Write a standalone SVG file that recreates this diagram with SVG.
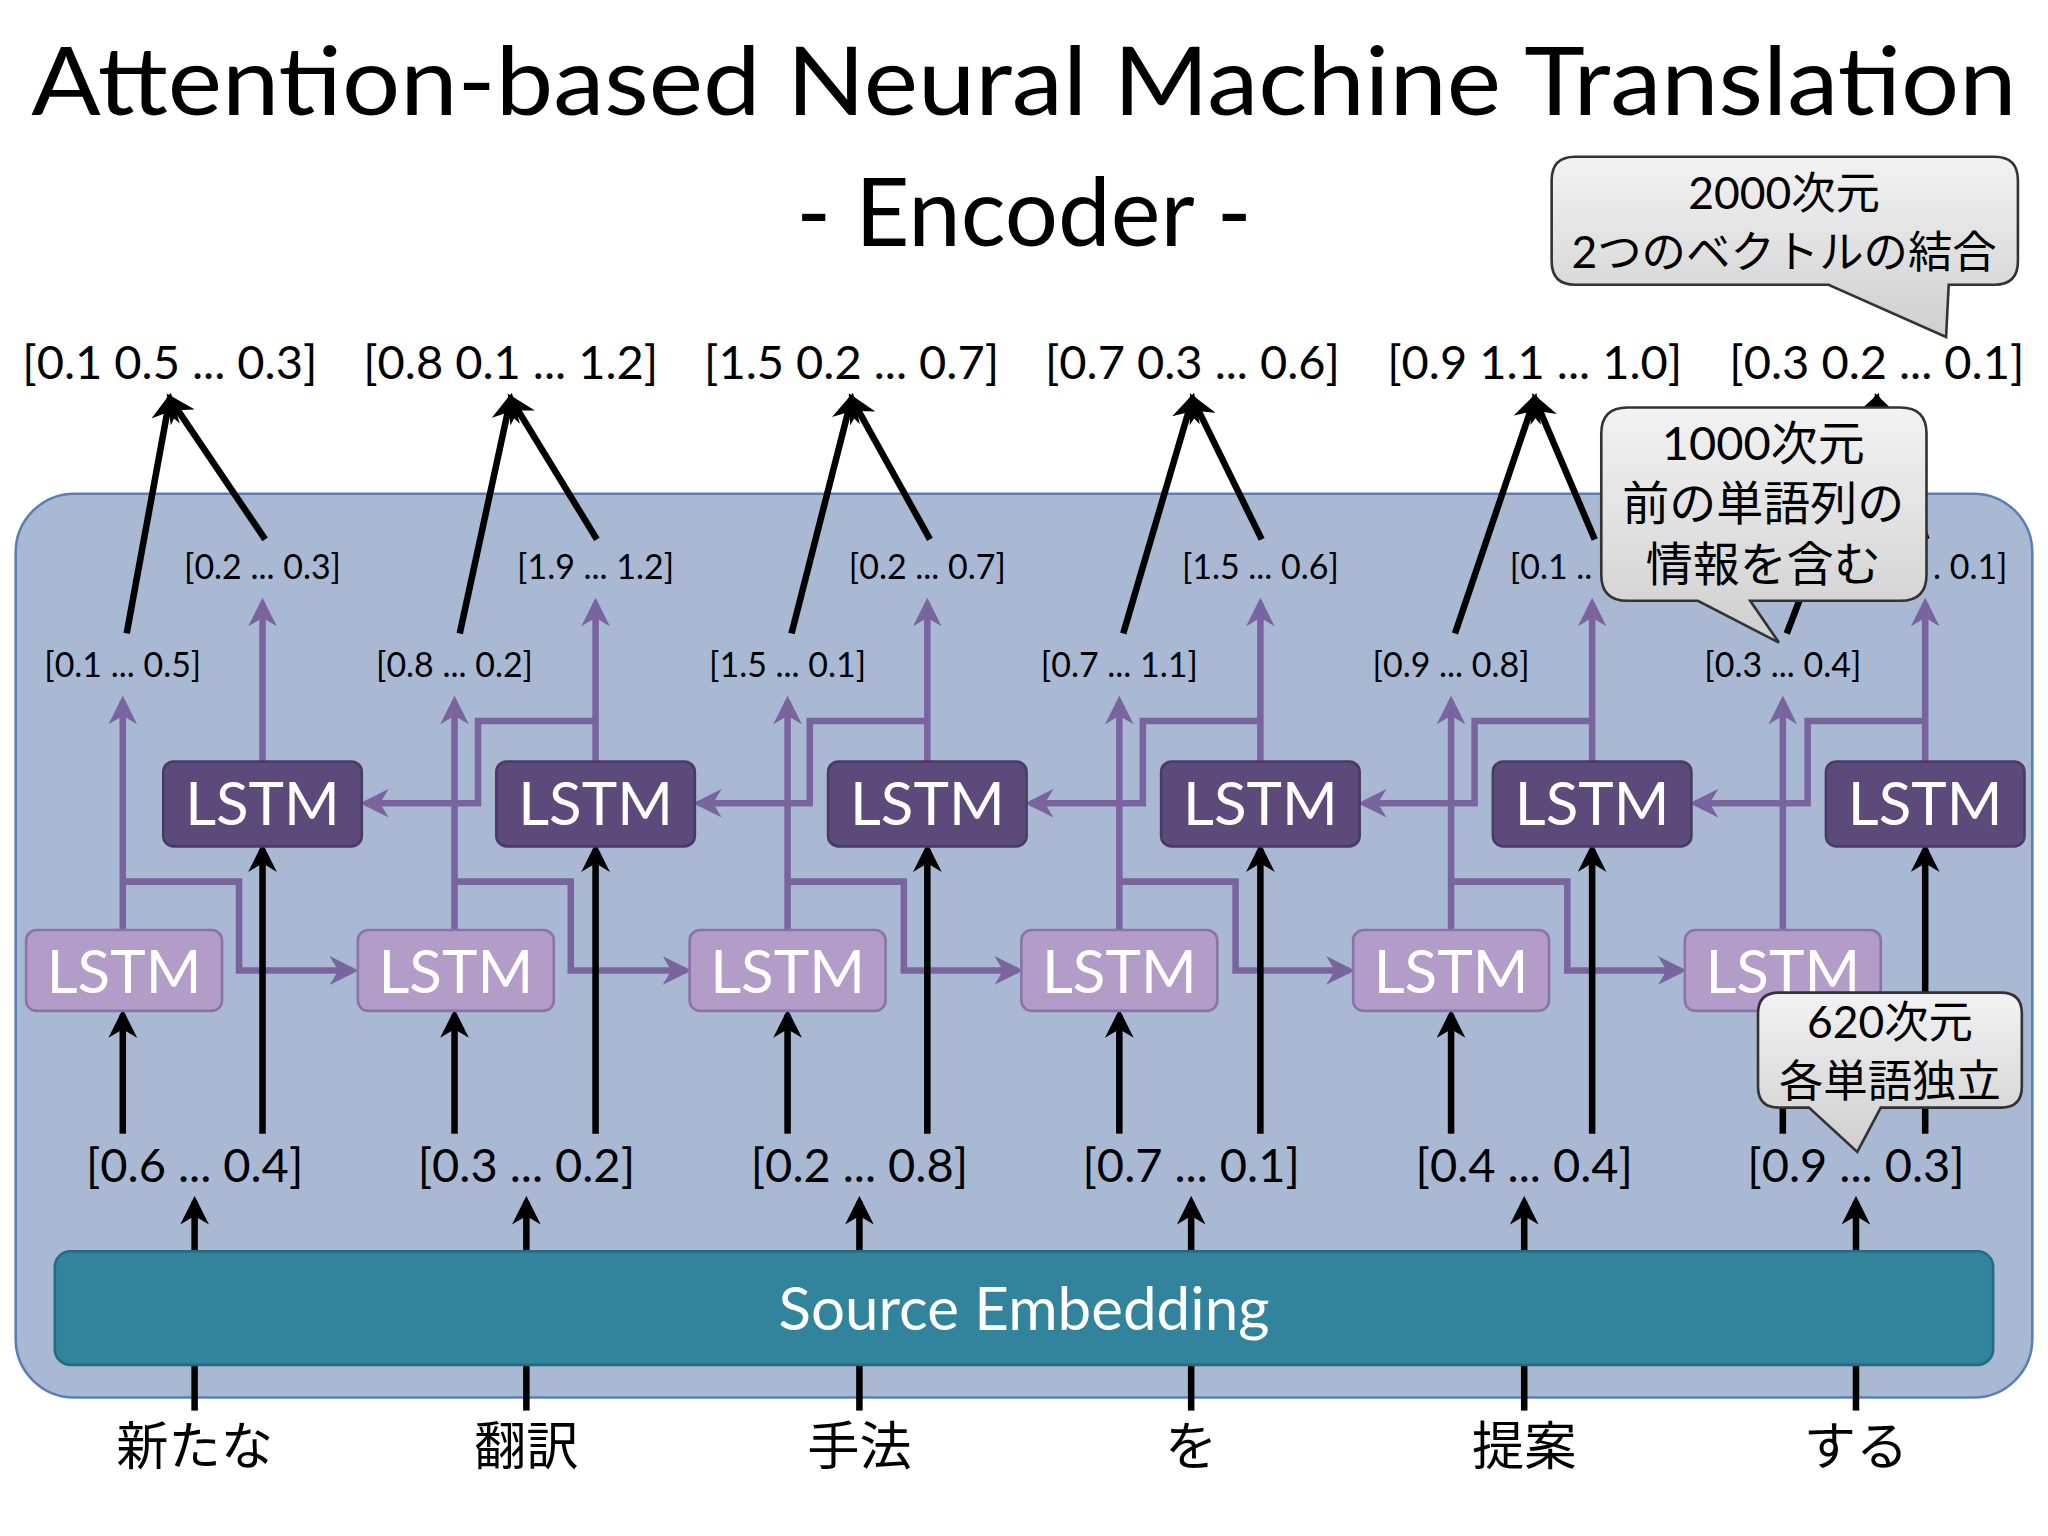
<svg xmlns="http://www.w3.org/2000/svg" width="2048" height="1536" viewBox="0 0 2048 1536">
<style>
text{font-family:Lato,"Noto Sans CJK JP",sans-serif;text-anchor:middle;fill:#000}
.lt rect{fill:#b39dc8;stroke:#8a73a8;stroke-width:2}
.dk rect{fill:#5c4a7a;stroke:#4a3a66;stroke-width:2}
.bt{fill:#fff;font-size:46px}
.pl{stroke:#7a64a0;stroke-width:5;fill:none}
.bk{stroke:#000;stroke-width:5;fill:none}
.co path{fill:url(#g);stroke:#333;stroke-width:2}
</style>
<defs>
<marker id="pa" viewBox="0 0 10 10" refX="8" refY="5" markerWidth="4.4" markerHeight="4.4" orient="auto"><path d="M0,0 L10,5 L0,10 L3,5 z" fill="#7a64a0"/></marker>
<marker id="ba" viewBox="0 0 10 10" refX="8" refY="5" markerWidth="4.4" markerHeight="4.4" orient="auto"><path d="M0,0 L10,5 L0,10 L3,5 z" fill="#000"/></marker>
<linearGradient id="g" x1="0" y1="0" x2="0" y2="1"><stop offset="0" stop-color="#f2f2f2"/><stop offset="1" stop-color="#cfcfcf"/></linearGradient>
</defs>
<rect width="2048" height="1536" fill="#fff"/>
<g transform="scale(1.3061)">
<text x="784" y="88" font-size="72" textLength="1520" lengthAdjust="spacingAndGlyphs">Attention-based Neural Machine Translation</text>
<text x="784" y="188" font-size="72">- Encoder -</text>
<rect x="12" y="378" width="1544" height="692" rx="45" fill="#a9b9d3" stroke="#5b7fb5" stroke-width="2"/>
<g id="connectors">
<g class="pl" marker-end="url(#pa)">
<path d="M94,712V537"/><path d="M348,712V537"/><path d="M603,712V537"/><path d="M857,712V537"/><path d="M1111,712V537"/><path d="M1365,712V537"/>
<path d="M201,583V462"/><path d="M456,583V462"/><path d="M710,583V462"/><path d="M965,583V462"/><path d="M1219,583V462"/><path d="M1474,583V462"/>
<path d="M94,675H183V743H270"/><path d="M348,675H437V743H525"/><path d="M603,675H692V743H779"/><path d="M857,675H946V743H1033"/><path d="M1111,675H1200V743H1287"/>
<path d="M456,552H366V615H280"/><path d="M710,552H620V615H535"/><path d="M965,552H875V615H789"/><path d="M1219,552H1129V615H1044"/><path d="M1474,552H1384V615H1298"/>
</g>
<g class="bk" marker-end="url(#ba)">
<path d="M94,868V777"/><path d="M348,868V777"/><path d="M603,868V777"/><path d="M857,868V777"/><path d="M1111,868V777"/><path d="M1365,868V777"/>
<path d="M201,868V650"/><path d="M456,868V650"/><path d="M710,868V650"/><path d="M965,868V650"/><path d="M1219,868V650"/><path d="M1474,868V650"/>
<path d="M149,958V920"/><path d="M403,958V920"/><path d="M658,958V920"/><path d="M912,958V920"/><path d="M1167,958V920"/><path d="M1421,958V920"/>
<path d="M97,485L130,305"/><path d="M203,413L130,305"/>
<path d="M352,485L391,305"/><path d="M457,413L391,305"/>
<path d="M606,485L652,305"/><path d="M712,413L652,305"/>
<path d="M860,485L913,305"/><path d="M966,413L913,305"/>
<path d="M1114,485L1175,305"/><path d="M1221,413L1175,305"/>
<path d="M1368,485L1437,305"/><path d="M1475,413L1437,305"/>
</g>
<g class="bk"><path d="M149,1080V1045"/><path d="M403,1080V1045"/><path d="M658,1080V1045"/><path d="M912,1080V1045"/><path d="M1167,1080V1045"/><path d="M1421,1080V1045"/></g>
</g>
<g font-size="36">
<text x="130" y="290">[0.1 0.5 ... 0.3]</text><text x="391" y="290">[0.8 0.1 ... 1.2]</text><text x="652" y="290">[1.5 0.2 ... 0.7]</text><text x="913" y="290">[0.7 0.3 ... 0.6]</text><text x="1175" y="290">[0.9 1.1 ... 1.0]</text><text x="1437" y="290">[0.3 0.2 ... 0.1]</text>
</g>
<g font-size="26">
<text x="94" y="518">[0.1 ... 0.5]</text><text x="348" y="518">[0.8 ... 0.2]</text><text x="603" y="518">[1.5 ... 0.1]</text><text x="857" y="518">[0.7 ... 1.1]</text><text x="1111" y="518">[0.9 ... 0.8]</text><text x="1365" y="518">[0.3 ... 0.4]</text>
<text x="201" y="443">[0.2 ... 0.3]</text><text x="456" y="443">[1.9 ... 1.2]</text><text x="710" y="443">[0.2 ... 0.7]</text><text x="965" y="443">[1.5 ... 0.6]</text><text x="1156" y="443" style="text-anchor:start">[0.1 ..</text><text x="1480" y="443" style="text-anchor:start">. 0.1]</text>
</g>
<g id="lstm-f1" class="lt"><rect x="20" y="712" width="150" height="62" rx="8"/><text class="bt" x="95" y="760">LSTM</text></g>
<g id="lstm-f2" class="lt"><rect x="274" y="712" width="150" height="62" rx="8"/><text class="bt" x="349" y="760">LSTM</text></g>
<g id="lstm-f3" class="lt"><rect x="528" y="712" width="150" height="62" rx="8"/><text class="bt" x="603" y="760">LSTM</text></g>
<g id="lstm-f4" class="lt"><rect x="782" y="712" width="150" height="62" rx="8"/><text class="bt" x="857" y="760">LSTM</text></g>
<g id="lstm-f5" class="lt"><rect x="1036" y="712" width="150" height="62" rx="8"/><text class="bt" x="1111" y="760">LSTM</text></g>
<g id="lstm-f6" class="lt"><rect x="1290" y="712" width="150" height="62" rx="8"/><text class="bt" x="1365" y="760">LSTM</text></g>
<g id="lstm-b1" class="dk"><rect x="125" y="583" width="152" height="65" rx="8"/><text class="bt" x="201" y="632">LSTM</text></g>
<g id="lstm-b2" class="dk"><rect x="380" y="583" width="152" height="65" rx="8"/><text class="bt" x="456" y="632">LSTM</text></g>
<g id="lstm-b3" class="dk"><rect x="634" y="583" width="152" height="65" rx="8"/><text class="bt" x="710" y="632">LSTM</text></g>
<g id="lstm-b4" class="dk"><rect x="889" y="583" width="152" height="65" rx="8"/><text class="bt" x="965" y="632">LSTM</text></g>
<g id="lstm-b5" class="dk"><rect x="1143" y="583" width="152" height="65" rx="8"/><text class="bt" x="1219" y="632">LSTM</text></g>
<g id="lstm-b6" class="dk"><rect x="1398" y="583" width="152" height="65" rx="8"/><text class="bt" x="1474" y="632">LSTM</text></g>
<g font-size="36">
<text x="149" y="905">[0.6 ... 0.4]</text><text x="403" y="905">[0.3 ... 0.2]</text><text x="658" y="905">[0.2 ... 0.8]</text><text x="912" y="905">[0.7 ... 0.1]</text><text x="1167" y="905">[0.4 ... 0.4]</text><text x="1421" y="905">[0.9 ... 0.3]</text>
</g>
<g id="embedding"><rect x="42" y="958" width="1484" height="87" rx="12" fill="#31849b" stroke="#256a7e" stroke-width="2"/><text x="784" y="1018" font-size="46" style="fill:#fff">Source Embedding</text></g>
<g font-size="40">
<text x="149" y="1122">新たな</text><text x="403" y="1122">翻訳</text><text x="658" y="1122">手法</text><text x="912" y="1122">を</text><text x="1167" y="1122">提案</text><text x="1421" y="1122">する</text>
</g>
<g class="co">
<g id="callout1"><path d="M1206,120H1527Q1545,120 1545,138V200Q1545,218 1527,218H1492L1490,258L1400,218H1206Q1188,218 1188,200V138Q1188,120 1206,120Z"/><text x="1366" y="160" font-size="34">2000次元</text><text x="1366" y="205" font-size="34">2つのベクトルの結合</text></g>
<g id="callout2"><path d="M1246,312H1455Q1475,312 1475,332V440Q1475,460 1455,460H1340L1362,492L1300,460H1246Q1226,460 1226,440V332Q1226,312 1246,312Z"/><text x="1350" y="352" font-size="36">1000次元</text><text x="1350" y="398" font-size="36">前の単語列の</text><text x="1350" y="445" font-size="36">情報を含む</text></g>
<g id="callout3"><path d="M1362,760H1532Q1548,760 1548,776V832Q1548,848 1532,848H1440L1422,882L1385,848H1362Q1346,848 1346,832V776Q1346,760 1362,760Z"/><text x="1447" y="795" font-size="34">620次元</text><text x="1447" y="840" font-size="34">各単語独立</text></g>
</g>
</g>
</svg>
